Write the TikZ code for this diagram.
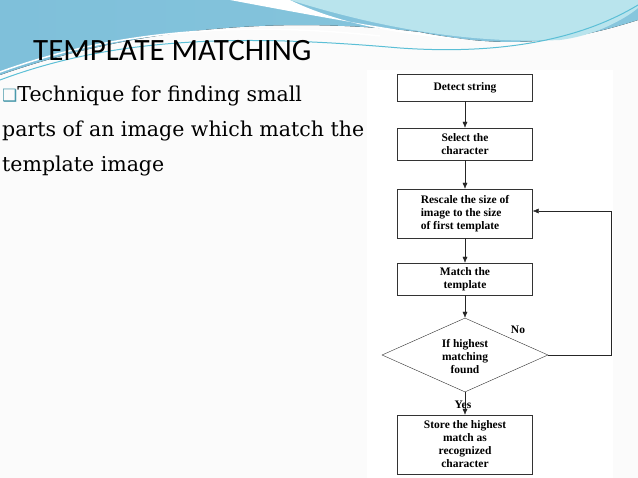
\documentclass[tikz,border=0pt]{standalone}
\usepackage{fontspec}
\setmainfont{Liberation Serif}
\newfontfamily\carl{Carlito}
\newfontfamily\dejavu{DejaVu Sans}
\newfontfamily\dserif{DejaVu Serif}
\usetikzlibrary{shapes.geometric,arrows.meta}
\definecolor{swA}{HTML}{7FC0DA}
\definecolor{swB}{HTML}{A8DDE8}
\definecolor{swC}{HTML}{5BBFD6}
\begin{document}
\begin{tikzpicture}[x=1pt,y=-1pt,
  ft/.style={font=\fontsize{11.5}{13}\selectfont\bfseries},
  fbox/.style={draw=black!80,fill=white,minimum width=135pt,align=center,ft,inner sep=1pt},
  body/.style={anchor=base west,inner sep=0,font=\dserif\fontsize{20.5}{20.5}\selectfont},
  arr/.style={-{Latex[length=6pt,width=5pt]},black!85}]
\useasboundingbox (0,0) rectangle (638,478);
\fill[white!97!gray] (0,0) rectangle (638,478);
% swoosh
\fill[left color=swA,right color=swA!80!swB] (0,0) -- (638,0) -- (638,20) .. controls (560,45) and (500,48) .. (420,32) .. controls (300,18) and (150,22) .. (0,75) -- cycle;
\fill[white] (230,0) .. controls (310,15) and (390,30) .. (470,40) .. controls (380,35) and (320,15) .. (290,0) -- cycle;
\fill[swB!80!white] (290,0) .. controls (380,28) and (470,44) .. (560,40) .. controls (600,35) and (630,15) .. (638,8) -- (638,0) -- cycle;
\fill[white!97!gray] (0,80) .. controls (100,35) and (250,25) .. (380,35) .. controls (300,35) and (150,40) .. (0,95) -- cycle;
\draw[swC,line width=1pt] (0,80) .. controls (120,35) and (250,35) .. (400,48) .. controls (500,55) and (580,40) .. (638,5);
\draw[white,line width=1.5pt] (0,72) .. controls (120,28) and (250,22) .. (380,36);
% title and text
\node[anchor=base west,inner sep=0,font=\carl\fontsize{31}{31}\selectfont] (title) at (33,61) {TEMPLATE MATCHING};
\node[body] (l1) at (2,102) {{\dejavu\fontsize{17}{17}\selectfont\color{swC!80!black}❑}Technique for finding small};
\node[body] (l2) at (2,137) {parts of an image which match the};
\node[body] (l3) at (2,172) {template image};
% flowchart
\fill[white] (367,70) rectangle (613,478);
\node[fbox,minimum height=27pt] (a) at (465,87.5) {Detect string};
\node[fbox,minimum height=32pt] (b) at (465,144) {Select the\\character};
\node[fbox,minimum height=49pt,align=left] (c) at (465,213.5) {Rescale the size of\\image to the size\\of first template};
\node[fbox,minimum height=32pt] (d) at (465,279) {Match the\\template};
\node[diamond,draw=black!80,fill=white,minimum width=166pt,minimum height=74pt,aspect=2.2,inner sep=0] (e) at (465,355) {};
\node[align=center,ft] (et) at (465,357) {If highest\\matching\\found};
\node[fbox,minimum height=59pt] (f) at (465,444.5) {Store the highest\\match as\\recognized\\character};
\draw[arr] (a) -- (b);
\draw[arr] (b) -- (c);
\draw[arr] (c) -- (d);
\draw[arr] (d) -- (e.north);
\draw[arr] (e.south) -- (f);
\coordinate (r1) at (611,355);
\coordinate (r2) at (611,211);
\draw[arr] (e.east) -- (r1) -- (r2) -- (c.east |- r2);
\node[ft] (no) at (518,330) {No};
\node[ft] (yes) at (463,405) {Yes};
\end{tikzpicture}
\end{document}
